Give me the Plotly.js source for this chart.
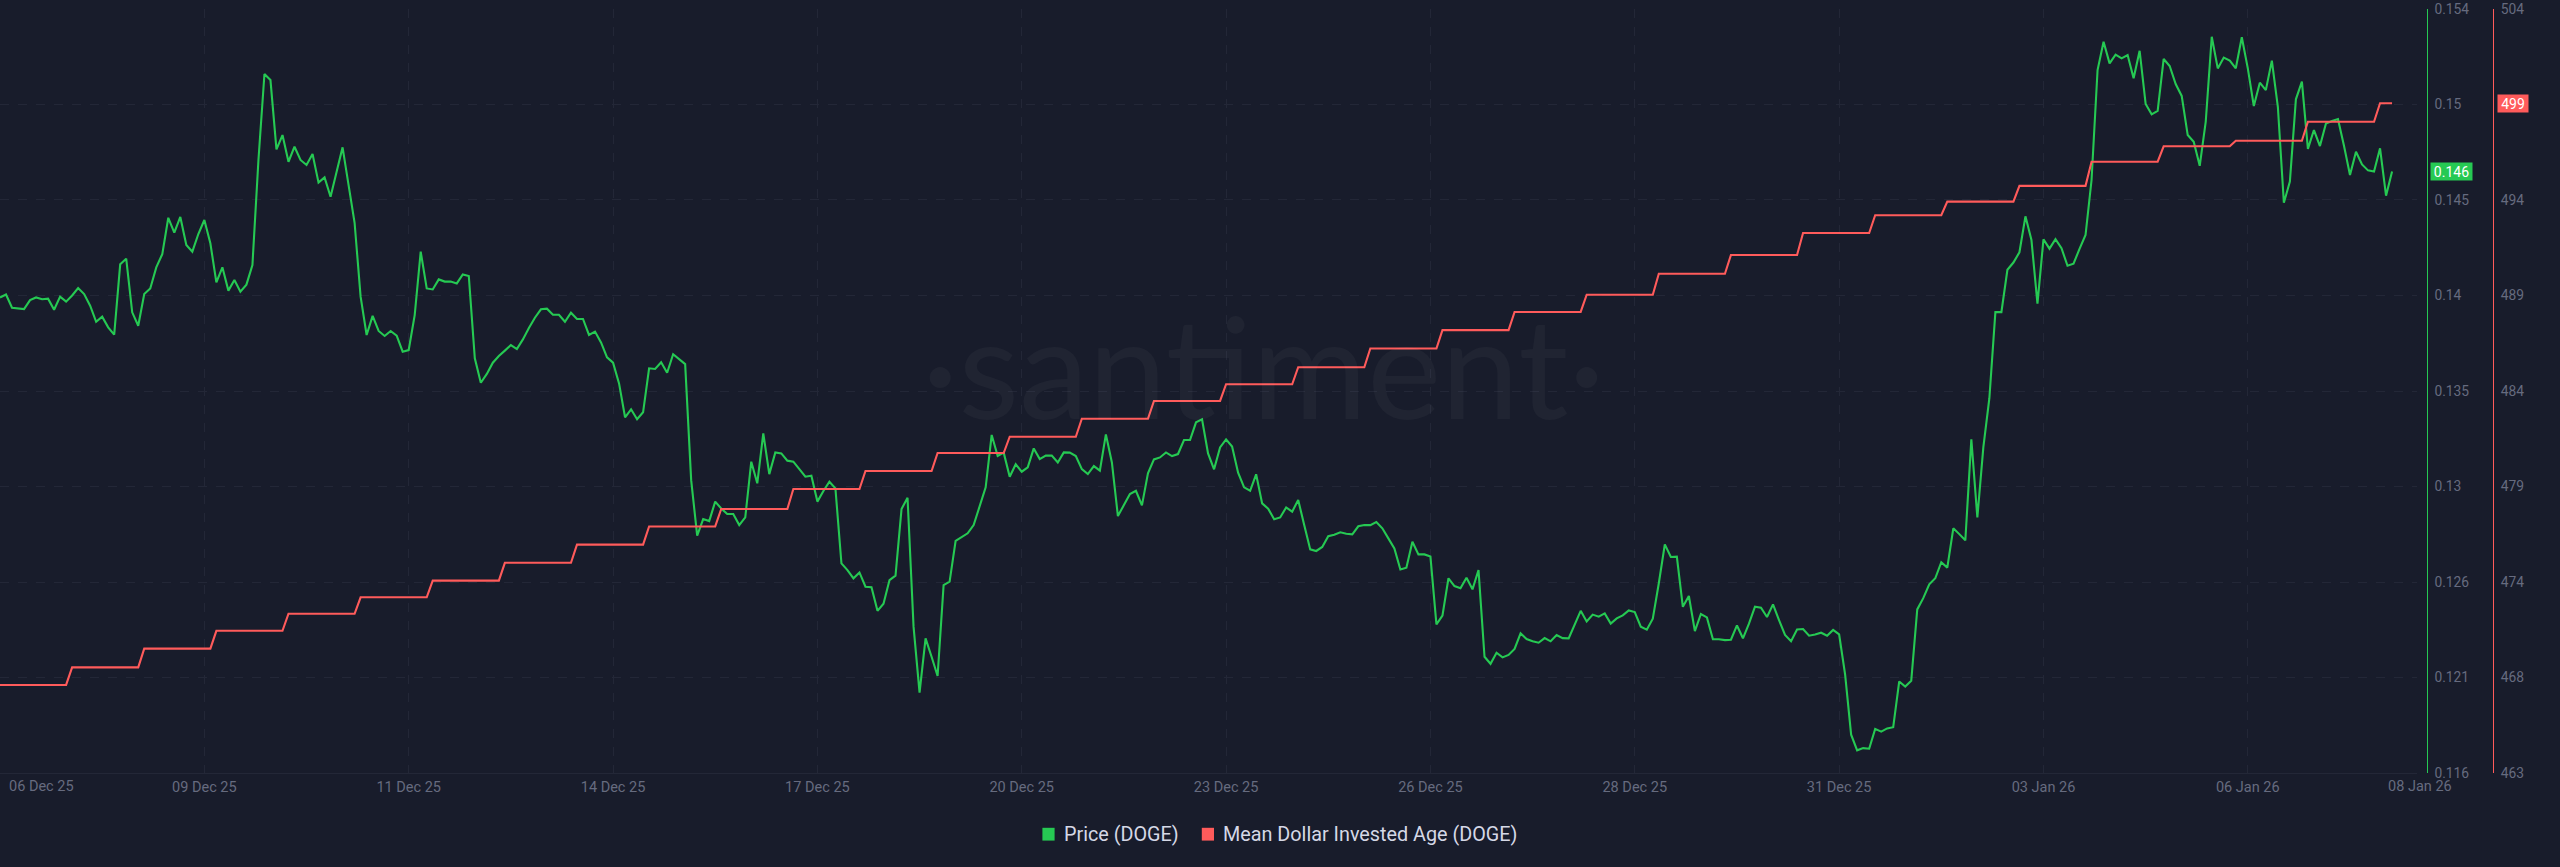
<!DOCTYPE html>
<html>
<head>
<meta charset="utf-8">
<script src="https://cdn.plot.ly/plotly-3.0.1.min.js"></script>
<style>html,body{margin:0;padding:0;background:#181c2b;overflow:hidden}#chart{width:2560px;height:867px}</style>
</head>
<body>
<div id="chart"></div>
<script>
// Price (DOGE), one reading every 2 hours
const price = [
.13990,.14005,.13939,.13936,.13932,.13977,.13990,.13981,.13984,.13929,.13994,.13969,.14000,.14037,.14007,.13949,.13869,.13894,.13841,.13805,
.14155,.14183,.13916,.13849,.14007,.14035,.14140,.14206,.14387,.14313,.14391,.14251,.14218,.14306,.14376,.14260,.14065,.14140,.14024,.14077,
.14019,.14054,.14152,.14675,.15103,.15073,.14728,.14799,.14666,.14741,.14675,.14650,.14705,.14562,.14588,.14492,.14617,.14738,.14550,.14362,
.13994,.13803,.13898,.13823,.13798,.13823,.13800,.13720,.13728,.13902,.14218,.14035,.14030,.14080,.14069,.14069,.14060,.14105,.14097,.13687,
.13565,.13609,.13665,.13698,.13725,.13753,.13733,.13781,.13838,.13889,.13931,.13934,.13904,.13904,.13869,.13914,.13883,.13883,.13803,.13820,
.13766,.13692,.13665,.13562,.13393,.13433,.13383,.13418,.13637,.13634,.13667,.13615,.13707,.13682,.13658,.13080,.12803,.12886,.12876,.12973,
.12939,.12911,.12911,.12856,.12894,.13172,.13064,.13313,.13110,.13218,.13213,.13177,.13172,.13135,.13097,.13102,.12973,.13026,.13072,.13039,
.12665,.12632,.12591,.12620,.12549,.12546,.12429,.12464,.12582,.12604,.12936,.12992,.12350,.12021,.12292,.12200,.12104,.12557,.12574,.12777,
.12795,.12815,.12856,.12948,.13044,.13305,.13200,.13217,.13097,.13159,.13122,.13144,.13238,.13185,.13202,.13202,.13168,.13218,.13217,.13200,
.13135,.13110,.13150,.13127,.13308,.13168,.12901,.12956,.13011,.13027,.12954,.13114,.13183,.13193,.13218,.13200,.13210,.13280,.13280,.13368,
.13383,.13213,.13134,.13243,.13283,.13247,.13117,.13044,.13027,.13109,.12964,.12938,.12885,.12894,.12944,.12923,.12981,.12856,.12735,.12727,
.12747,.12801,.12808,.12820,.12813,.12810,.12850,.12856,.12856,.12871,.12840,.12790,.12740,.12635,.12644,.12773,.12710,.12710,.12699,.12361,
.12405,.12591,.12552,.12541,.12594,.12536,.12632,.12200,.12165,.12220,.12197,.12209,.12239,.12317,.12288,.12277,.12270,.12293,.12277,.12308,
.12293,.12292,.12358,.12429,.12376,.12410,.12400,.12416,.12365,.12391,.12406,.12431,.12423,.12350,.12335,.12390,.12566,.12760,.12697,.12699,
.12449,.12503,.12328,.12413,.12396,.12287,.12287,.12283,.12285,.12356,.12292,.12365,.12450,.12445,.12398,.12461,.12383,.12309,.12278,.12336,
.12338,.12305,.12311,.12320,.12305,.12334,.12312,.12111,.11812,.11734,.11745,.11742,.11841,.11827,.11843,.11849,.12077,.12052,.12080,.12436,
.12492,.12561,.12591,.12671,.12644,.12840,.12811,.12780,.13283,.12894,.13244,.13488,.13917,.13917,.14128,.14164,.14215,.14394,.14276,.13959,
.14280,.14233,.14280,.14235,.14148,.14158,.14232,.14301,.14575,.15123,.15264,.15156,.15200,.15181,.15198,.15082,.15219,.14954,.14902,.14919,
.15178,.15143,.15053,.14994,.14799,.14766,.14646,.14866,.15289,.15131,.15185,.15170,.15131,.15286,.15131,.14944,.15060,.15023,.15170,.14940,
.14462,.14567,.14977,.15065,.14730,.14824,.14744,.14857,.14869,.14879,.14746,.14600,.14716,.14653,.14623,.14617,.14733,.14497,.14618
];
// Mean Dollar Invested Age (DOGE), one level per day
const ageDaily = [
468.01,468.95,469.95,470.90,471.81,472.69,473.58,474.53,475.50,476.47,477.40,478.47,479.43,480.39,481.26,482.22,483.17,
484.06,484.97,485.97,486.95,487.92,488.84,489.96,490.96,492.13,493.08,493.81,494.65,495.94,496.76,497.06,498.07,499.06
];
const dateLabels = ['06 Dec 25','09 Dec 25','11 Dec 25','14 Dec 25','17 Dec 25','20 Dec 25','23 Dec 25','26 Dec 25','28 Dec 25','31 Dec 25','03 Jan 26','06 Jan 26','08 Jan 26'];
const priceLabels = ['0.116','0.121','0.126','0.13','0.135','0.14','0.145','0.15','0.154'];
const priceTicks = [0.1162,0.12096,0.12572,0.13048,0.13524,0.14,0.14476,0.14952,0.15428];
const ageLabels = ['463','468','474','479','484','489','494','499','504'];
const ageTicks = [463.3,468.4,473.5,478.6,483.7,488.8,493.9,499,504.1];

const W = 2560, H = 867;
const START = Date.UTC(2025, 11, 6, 7);
const HOUR = 3600e3;
const iso = t => new Date(t).toISOString().slice(0, 19);
const times = price.map((_, i) => iso(START + i * 2 * HOUR));
const age = price.map((_, i) => ageDaily[Math.floor(i / 12)]);
const tickTimes = dateLabels.slice(0, 12).map((_, k) => iso(START + k * 68 * HOUR));
const END = START + 804.3 * HOUR;

const GREEN = '#26C953', RED = '#FF5B5B', GRID = '#232737', MUTED = '#666B7F', FONT = 'Roboto, sans-serif';
const px = x => x / W, py = y => 1 - y / H;

const tickFont = {family: FONT, size: 14.5, color: MUTED};
const valueFont = {family: FONT, size: 13.8, color: MUTED};
const yCommon = {
  domain: [py(773.2), py(8.8)], side: 'right', anchor: 'free', tickmode: 'array',
  ticks: '', ticklabelstandoff: 4, tickfont: valueFont, showline: true, linewidth: 1, zeroline: false, fixedrange: true
};

const traces = [
  {x: times, y: price, name: 'Price (DOGE)', type: 'scatter', mode: 'lines', yaxis: 'y', line: {color: GREEN, width: 2.1}, hoverinfo: 'skip', showlegend: false},
  {x: times, y: age, name: 'Mean Dollar Invested Age (DOGE)', type: 'scatter', mode: 'lines', yaxis: 'y2', line: {color: RED, width: 2.1}, hoverinfo: 'skip', showlegend: false}
];

const layout = {
  width: W, height: H, autosize: false,
  margin: {l: 0, r: 0, t: 0, b: 0, pad: 0},
  paper_bgcolor: '#181c2b', plot_bgcolor: '#181c2b',
  showlegend: false,
  xaxis: {
    type: 'date', domain: [0, px(2417)], range: [iso(START), iso(END)], anchor: 'y',
    tickmode: 'array', tickvals: tickTimes, ticktext: [''].concat(dateLabels.slice(1, 12)),
    ticks: '', ticklabelstandoff: 0, tickfont: tickFont, tickangle: 0,
    showgrid: true, gridcolor: GRID, griddash: 'dash', gridwidth: 1,
    showline: true, linecolor: GRID, linewidth: 1, zeroline: false, fixedrange: true
  },
  yaxis: Object.assign({}, yCommon, {
    range: [0.1162, 0.15428], position: px(2426.7), tickvals: priceTicks, ticktext: priceLabels,
    linecolor: GREEN, showgrid: true, gridcolor: GRID, griddash: 'dash', gridwidth: 1
  }),
  yaxis2: Object.assign({}, yCommon, {
    range: [463.3, 504.1], position: px(2493), tickvals: ageTicks, ticktext: ageLabels,
    overlaying: 'y', linecolor: RED, showgrid: false
  }),
  shapes: [
    {type: 'rect', xref: 'paper', yref: 'paper', x0: px(1042.4), x1: px(1054.6), y0: py(840.6), y1: py(827.8), fillcolor: GREEN, line: {width: 0}},
    {type: 'rect', xref: 'paper', yref: 'paper', x0: px(1201.8), x1: px(1214), y0: py(840.6), y1: py(827.8), fillcolor: RED, line: {width: 0}}
  ],
  annotations: [
    {xref: 'paper', yref: 'paper', x: px(1263), y: py(423), yanchor: 'bottom', xanchor: 'center', yshift: -28, showarrow: false,
     text: '·santiment·', font: {family: 'Lato, sans-serif', size: 140, color: 'rgba(255,255,255,0.035)'}},
    {xref: 'paper', yref: 'paper', x: px(7), y: py(786.5), xanchor: 'left', yanchor: 'middle', showarrow: false, text: dateLabels[0], font: tickFont},
    {xref: 'paper', yref: 'paper', x: px(2420), y: py(786.5), xanchor: 'center', yanchor: 'middle', showarrow: false, text: dateLabels[12], font: tickFont},
    {xref: 'paper', yref: 'paper', x: px(1062), y: py(834), xanchor: 'left', yanchor: 'middle', showarrow: false, text: traces[0].name, font: {family: FONT, size: 19.8, color: '#D5D8E6'}},
    {xref: 'paper', yref: 'paper', x: px(1221), y: py(834), xanchor: 'left', yanchor: 'middle', showarrow: false, text: traces[1].name, font: {family: FONT, size: 19.8, color: '#D5D8E6'}},
    {xref: 'paper', yref: 'y', x: px(2451.3), y: price[price.length - 1], xanchor: 'center', yanchor: 'middle', showarrow: false, width: 41, height: 17, borderpad: 0,
     bgcolor: GREEN, text: price[price.length - 1].toFixed(3), font: {family: FONT, size: 14, color: '#FFFFFF'}},
    {xref: 'paper', yref: 'y2', x: px(2512.5), y: age[age.length - 1], xanchor: 'center', yanchor: 'middle', showarrow: false, width: 30, height: 17, borderpad: 0,
     bgcolor: RED, text: age[age.length - 1].toFixed(0), font: {family: FONT, size: 14, color: '#FFFFFF'}}
  ]
};

Plotly.newPlot('chart', traces, layout, {displayModeBar: false, responsive: false});
</script>
</body>
</html>
